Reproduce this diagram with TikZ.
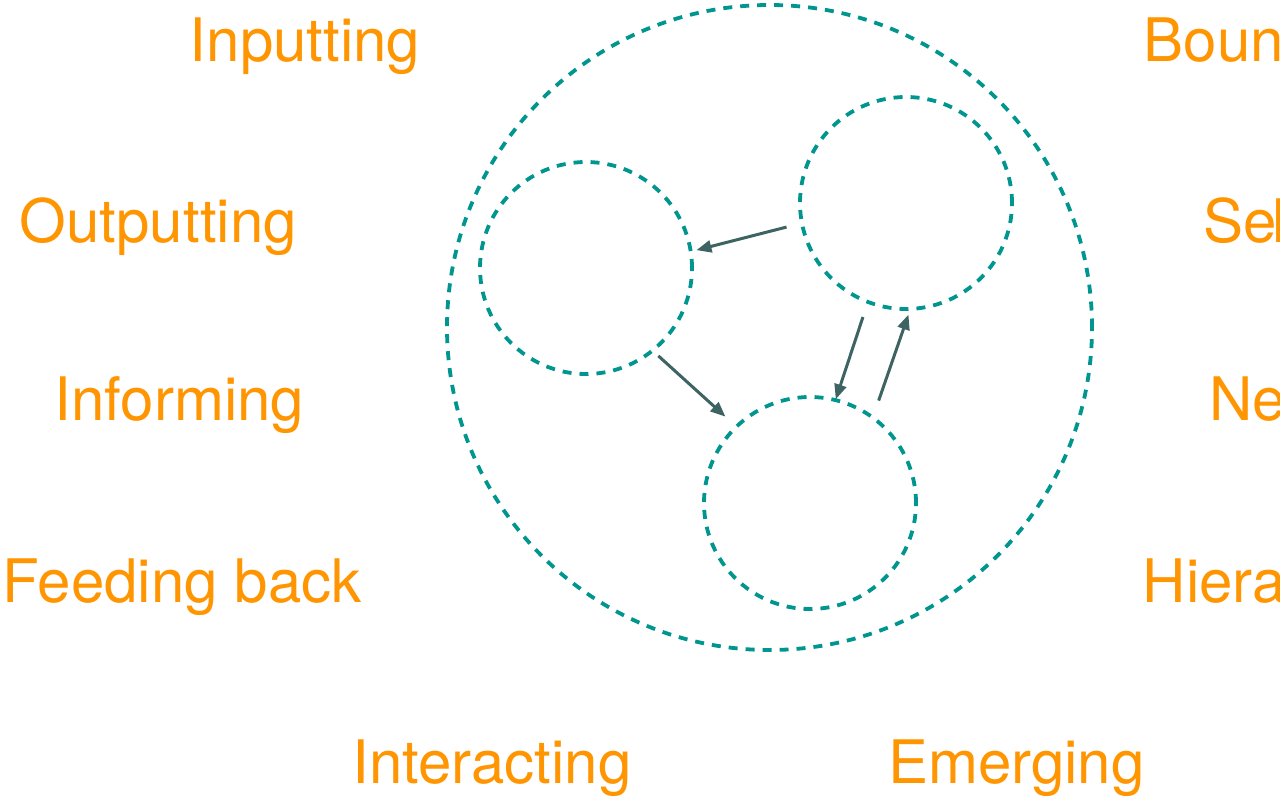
\documentclass[tikz,border=0pt]{standalone}
\usepackage{fontspec}
\setmainfont{TeX Gyre Heros}
\usetikzlibrary{arrows.meta}
\definecolor{ringteal}{HTML}{00968F}
\definecolor{arrowslate}{HTML}{3D6363}
\definecolor{labelorange}{HTML}{FF9500}
\tikzset{
  ring/.style={circle, draw=ringteal, line width=3.8pt, dash pattern=on 9pt off 8pt, inner sep=0pt},
  flow/.style={draw=arrowslate, line width=3pt, -{Triangle[length=15pt,width=12pt]}},
  lbl/.style={anchor=base west, inner sep=0pt, text=labelorange, font=\fontsize{60}{72}\selectfont}
}
\begin{document}
\begin{tikzpicture}[x=1pt,y=-1pt]
\useasboundingbox (0,0) rectangle (1280,798);
\clip (0,0) rectangle (1280,798);
\fill[white] (0,0) rectangle (1280,798);
% rings
\node[ring, minimum size=645pt] (outer) at (769.5,327.5) {};
\node[ring, minimum size=212pt] (A) at (586,268) {};
\node[ring, minimum size=212pt] (B) at (906,203) {};
\node[ring, minimum size=212pt] (C) at (810,503) {};
% arrows
\draw[flow, shorten <=14pt, shorten >=4pt] (B.191) -- (A.9);
\draw[flow, shorten <=6pt, shorten >=13pt] (A.309) -- (C.134);
\draw[flow, shorten <=14pt, shorten >=-1pt] (B.249) -- (C.76);
\draw[flow, shorten <=16pt, shorten >=4pt] (C.54) -- (B.272);
% labels
\node[lbl] (inputting) at (189.5,61) {Inputting};
\node[lbl] (outputting) at (19.7,242) {Outputting};
\node[lbl] (informing) at (54.4,420) {Informing};
\node[lbl] (feeding) at (2.5,602) {Feeding back};
\node[lbl] (interacting) at (352.4,783) {Interacting};
\node[lbl] (emerging) at (888,783) {Emerging};
\node[lbl] (boun) at (1143.5,61) {Boun};
\node[lbl] (sel) at (1203.5,242) {Se\kern-5pt l};
\node[lbl] (ne) at (1209,420) {Ne};
\node[lbl] (hiera) at (1142.5,602) {Hiera};
\end{tikzpicture}
\end{document}
